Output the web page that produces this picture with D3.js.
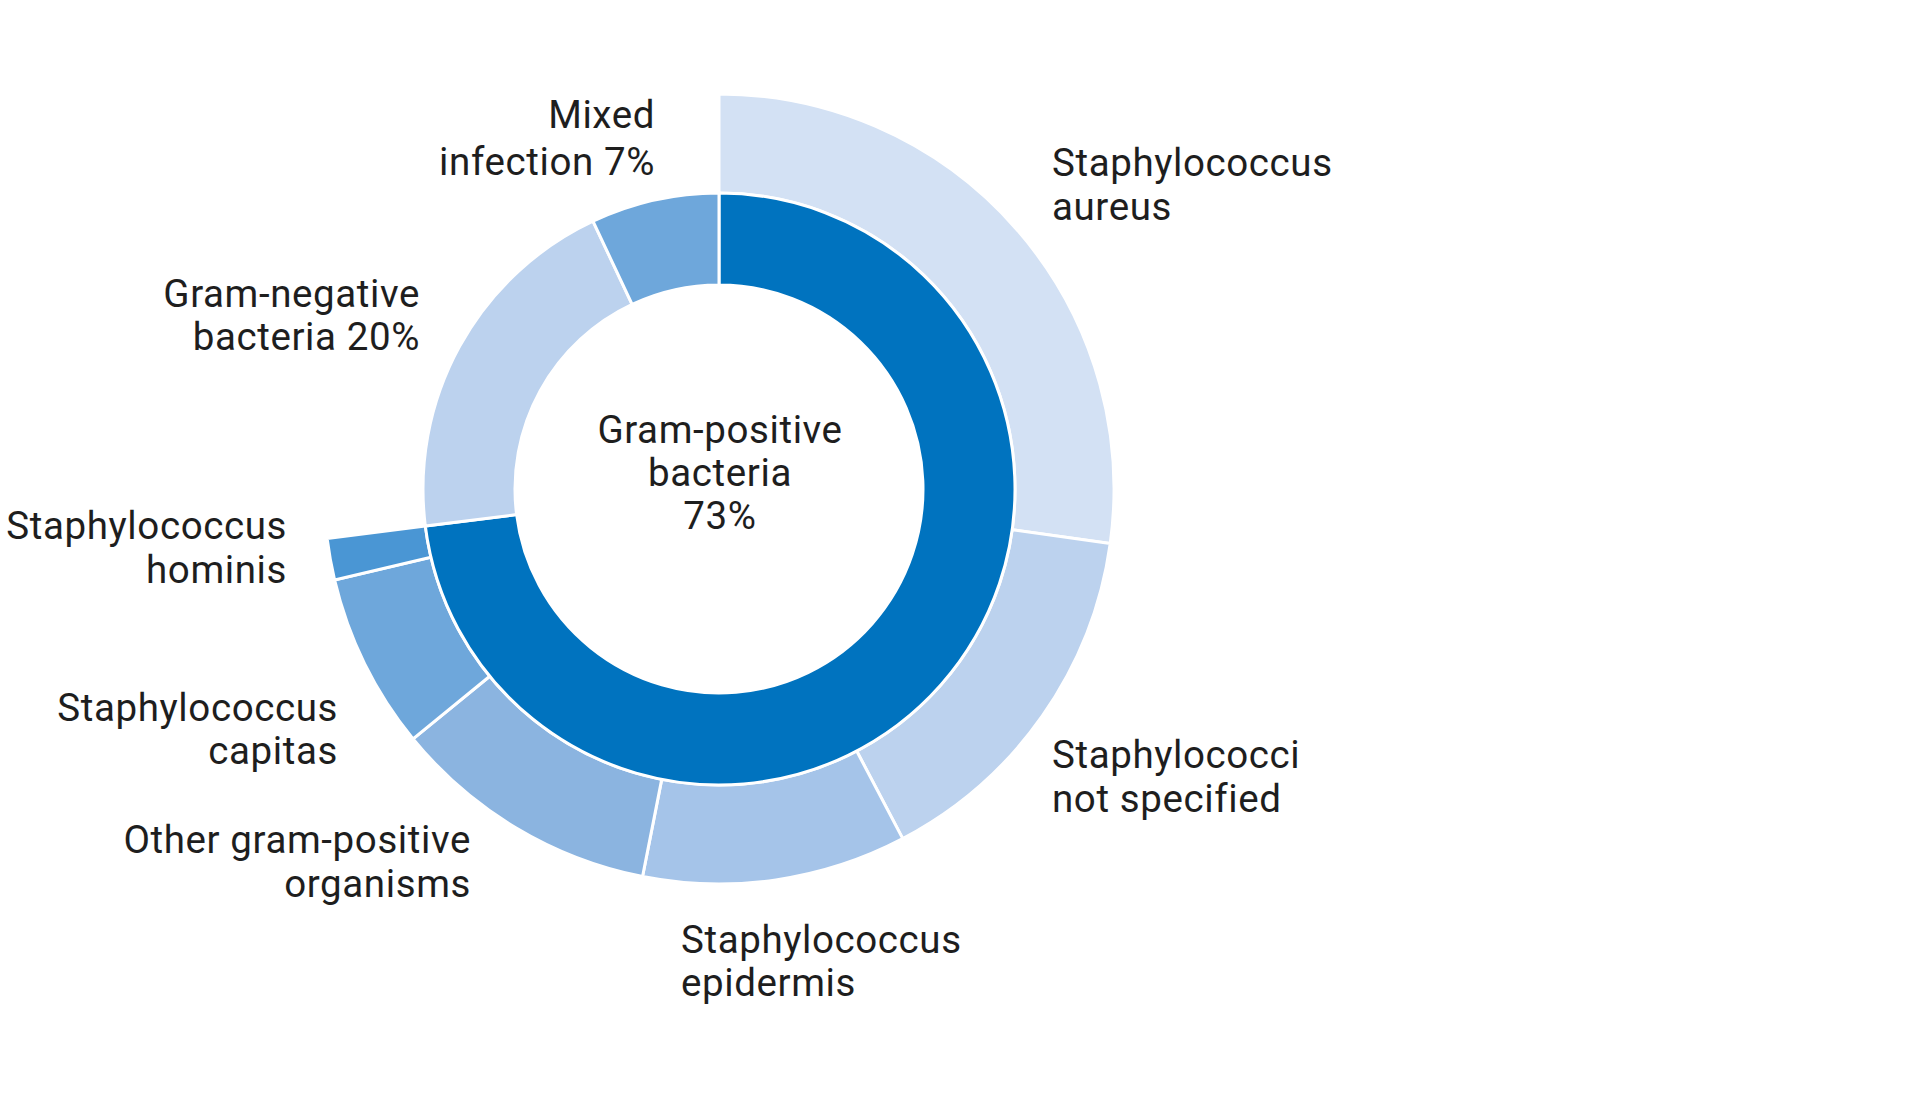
<!DOCTYPE html>
<html>
<head>
<meta charset="utf-8">
<script src="https://cdn.jsdelivr.net/npm/d3@7"></script>
<style>
  body { margin: 0; background: #fff; }
  text { font-family: Roboto, "Noto Sans", sans-serif; fill: #1e1e1e; letter-spacing: 0.6px; }
</style>
</head>
<body>
<script>
// inner ring: share of all infections
var innerCategories = ["Gram-positive bacteria", "Gram-negative bacteria", "Mixed infection"];
var innerValues = [73, 20, 7];

// outer ring: breakdown of the gram-positive part
var outerCategories = ["Staphylococcus aureus", "Staphylococci not specified", "Staphylococcus epidermis",
                       "Other gram-positive organisms", "Staphylococcus capitas", "Staphylococcus hominis"];
var outerValues = [27.2, 15.1, 10.8, 11.0, 7.2, 1.7];

var innerLabels = [["Gram-positive", "bacteria", "73%"], ["Gram-negative", "bacteria 20%"], ["Mixed", "infection 7%"]];
var outerLabels = [["Staphylococcus", "aureus"], ["Staphylococci", "not specified"], ["Staphylococcus", "epidermis"],
                   ["Other gram-positive", "organisms"], ["Staphylococcus", "capitas"], ["Staphylococcus", "hominis"]];

var innerColors = ["#0073bf", "#bcd2ee", "#6ea7db"];
var outerColors = ["#d3e1f4", "#bcd2ee", "#a5c4e9", "#8bb4e0", "#6ea7db", "#4a96d4"];

var w = 1920, h = 1097;
var cx = 719, cy = 489;

// label placement, relative to the centre: [anchor, dx, dy of first baseline, line step]
var innerLabelPos = [["middle", 1, -46, 43], ["end", -299, -182, 43], ["end", -64, -361, 47]];
var outerLabelPos = [["start", 333, -313, 44], ["start", 333, 279, 44], ["start", -38, 464, 43],
                     ["end", -248, 364, 44], ["end", -381, 232, 43], ["end", -432, 50, 44]];

var svg = d3.select("body").append("svg")
    .attr("width", w)
    .attr("height", h);

var g = svg.append("g")
    .attr("transform", "translate(" + cx + "," + cy + ")");

var innerPie = d3.pie().sort(null);
var innerArcs = innerPie(innerValues);

// outer ring only spans the gram-positive slice
var outerPie = d3.pie().sort(null)
    .startAngle(innerArcs[0].startAngle)
    .endAngle(innerArcs[0].endAngle);
var outerArcs = outerPie(outerValues);

var innerArc = d3.arc().innerRadius(204).outerRadius(296);
var outerArc = d3.arc().innerRadius(296).outerRadius(395);

g.selectAll("path.outer")
  .data(outerArcs)
  .enter().append("path")
    .attr("class", "outer")
    .attr("d", outerArc)
    .attr("fill", function(d, i) { return outerColors[i]; })
    .attr("stroke", "#fff")
    .attr("stroke-width", 3);

g.selectAll("path.inner")
  .data(innerArcs)
  .enter().append("path")
    .attr("class", "inner")
    .attr("d", innerArc)
    .attr("fill", function(d, i) { return innerColors[i]; })
    .attr("stroke", "#fff")
    .attr("stroke-width", 3);

function addLabels(lines, pos, cls) {
  var t = g.selectAll("text." + cls)
    .data(lines)
    .enter().append("text")
      .attr("class", cls)
      .attr("font-size", 38.5)
      .attr("text-anchor", function(d, i) { return pos[i][0]; });
  t.each(function(d, i) {
    var p = pos[i];
    d3.select(this).selectAll("tspan")
      .data(d)
      .enter().append("tspan")
        .attr("x", p[1])
        .attr("y", function(s, j) { return p[2] + j * p[3]; })
        .text(function(s) { return s; });
  });
}

addLabels(innerLabels, innerLabelPos, "inner-label");
addLabels(outerLabels, outerLabelPos, "outer-label");
</script>
</body>
</html>
